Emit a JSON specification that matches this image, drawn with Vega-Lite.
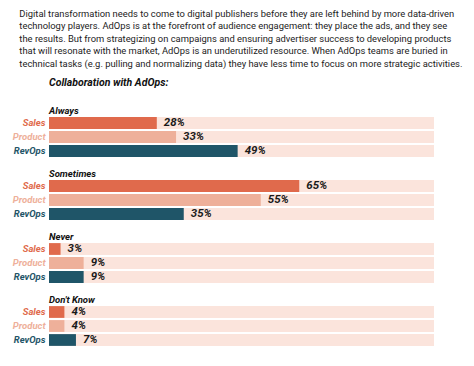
{
  "$schema": "https://vega.github.io/schema/vega-lite/v6.json",
  "background": "white",
  "padding": {"left": 12, "top": 8, "right": 0, "bottom": 0},
  "autosize": {"type": "pad"},
  "title": {
    "text": [
      "Digital transformation needs to come to digital publishers before they are left behind by more data-driven",
      "technology players. AdOps is at the forefront of audience engagement: they place the ads, and they see",
      "the results. But from strategizing on campaigns and ensuring advertiser success to developing products",
      "that will resonate with the market, AdOps is an underutilized resource. When AdOps teams are buried in",
      "technical tasks (e.g. pulling and normalizing data) they have less time to focus on more strategic activities."
    ],
    "anchor": "start",
    "frame": "bounds",
    "font": "Roboto",
    "fontSize": 9.4,
    "fontWeight": "normal",
    "fontStyle": "normal",
    "color": "#222222",
    "lineHeight": 12.6,
    "dx": 7,
    "dy": 0,
    "offset": 9
  },
  "data": {
    "values": [
      {"group": "Always", "team": "Sales", "value": 0.28},
      {"group": "Always", "team": "Product", "value": 0.33},
      {"group": "Always", "team": "RevOps", "value": 0.49},
      {"group": "Sometimes", "team": "Sales", "value": 0.65},
      {"group": "Sometimes", "team": "Product", "value": 0.55},
      {"group": "Sometimes", "team": "RevOps", "value": 0.35},
      {"group": "Never", "team": "Sales", "value": 0.03},
      {"group": "Never", "team": "Product", "value": 0.09},
      {"group": "Never", "team": "RevOps", "value": 0.09},
      {"group": "Don't Know", "team": "Sales", "value": 0.04},
      {"group": "Don't Know", "team": "Product", "value": 0.04},
      {"group": "Don't Know", "team": "RevOps", "value": 0.07}
    ]
  },
  "vconcat": [
    {
      "title": {
        "text": "Collaboration with AdOps:",
        "anchor": "start",
        "frame": "group",
        "font": "Roboto",
        "fontSize": 10.5,
        "fontWeight": "bold",
        "fontStyle": "italic",
        "color": "#111111",
        "offset": 16.6,
        "dx": 0,
        "dy": 0
      },
      "spacing": 10,
      "vconcat": [
        {
          "title": {"text": "Always", "dy": 3},
          "width": 385, "height": 42,
          "transform": [{"filter": "datum.group == 'Always'"}],
          "encoding": {
            "y": {"field": "team", "type": "nominal", "sort": ["Sales", "Product", "RevOps"], "scale": {"paddingInner": 0.16, "paddingOuter": 0.08}, "axis": {"title": null, "domain": false, "ticks": false, "labelPadding": 4, "minExtent": 36, "maxExtent": 36, "labelFont": "Roboto", "labelFontSize": 9.5, "labelFontWeight": "bold", "labelFontStyle": "italic", "labelColor": {"condition": [{"test": "datum.value == 'Sales'", "value": "#e06a4c"}, {"test": "datum.value == 'Product'", "value": "#eeb09a"}], "value": "#1f5568"}}}
          },
          "layer": [
            {"mark": {"type": "bar", "color": "#fbe4dc"}, "encoding": {"x": {"datum": 1, "type": "quantitative", "scale": {"domain": [0, 1]}, "axis": null}}},
            {"mark": {"type": "bar"}, "encoding": {"x": {"field": "value", "type": "quantitative", "scale": {"domain": [0, 1]}, "axis": null}, "color": {"field": "team", "type": "nominal", "scale": {"domain": ["Sales", "Product", "RevOps"], "range": ["#e06a4c", "#eeb09a", "#1f5568"]}, "legend": null}}},
            {"mark": {"type": "text", "align": "left", "dx": 7, "font": "Roboto", "fontSize": 11.5, "fontWeight": "bold", "fontStyle": "italic", "color": "#1a1a1a"}, "encoding": {"x": {"field": "value", "type": "quantitative", "scale": {"domain": [0, 1]}, "axis": null}, "text": {"field": "value", "type": "quantitative", "format": ".0%"}}}
          ]
        },
        {
          "title": {"text": "Sometimes", "dy": 3},
          "width": 385, "height": 42,
          "transform": [{"filter": "datum.group == 'Sometimes'"}],
          "encoding": {
            "y": {"field": "team", "type": "nominal", "sort": ["Sales", "Product", "RevOps"], "scale": {"paddingInner": 0.16, "paddingOuter": 0.08}, "axis": {"title": null, "domain": false, "ticks": false, "labelPadding": 4, "minExtent": 36, "maxExtent": 36, "labelFont": "Roboto", "labelFontSize": 9.5, "labelFontWeight": "bold", "labelFontStyle": "italic", "labelColor": {"condition": [{"test": "datum.value == 'Sales'", "value": "#e06a4c"}, {"test": "datum.value == 'Product'", "value": "#eeb09a"}], "value": "#1f5568"}}}
          },
          "layer": [
            {"mark": {"type": "bar", "color": "#fbe4dc"}, "encoding": {"x": {"datum": 1, "type": "quantitative", "scale": {"domain": [0, 1]}, "axis": null}}},
            {"mark": {"type": "bar"}, "encoding": {"x": {"field": "value", "type": "quantitative", "scale": {"domain": [0, 1]}, "axis": null}, "color": {"field": "team", "type": "nominal", "scale": {"domain": ["Sales", "Product", "RevOps"], "range": ["#e06a4c", "#eeb09a", "#1f5568"]}, "legend": null}}},
            {"mark": {"type": "text", "align": "left", "dx": 7, "font": "Roboto", "fontSize": 11.5, "fontWeight": "bold", "fontStyle": "italic", "color": "#1a1a1a"}, "encoding": {"x": {"field": "value", "type": "quantitative", "scale": {"domain": [0, 1]}, "axis": null}, "text": {"field": "value", "type": "quantitative", "format": ".0%"}}}
          ]
        },
        {
          "title": {"text": "Never", "dy": 3},
          "width": 385, "height": 42,
          "transform": [{"filter": "datum.group == 'Never'"}],
          "encoding": {
            "y": {"field": "team", "type": "nominal", "sort": ["Sales", "Product", "RevOps"], "scale": {"paddingInner": 0.16, "paddingOuter": 0.08}, "axis": {"title": null, "domain": false, "ticks": false, "labelPadding": 4, "minExtent": 36, "maxExtent": 36, "labelFont": "Roboto", "labelFontSize": 9.5, "labelFontWeight": "bold", "labelFontStyle": "italic", "labelColor": {"condition": [{"test": "datum.value == 'Sales'", "value": "#e06a4c"}, {"test": "datum.value == 'Product'", "value": "#eeb09a"}], "value": "#1f5568"}}}
          },
          "layer": [
            {"mark": {"type": "bar", "color": "#fbe4dc"}, "encoding": {"x": {"datum": 1, "type": "quantitative", "scale": {"domain": [0, 1]}, "axis": null}}},
            {"mark": {"type": "bar"}, "encoding": {"x": {"field": "value", "type": "quantitative", "scale": {"domain": [0, 1]}, "axis": null}, "color": {"field": "team", "type": "nominal", "scale": {"domain": ["Sales", "Product", "RevOps"], "range": ["#e06a4c", "#eeb09a", "#1f5568"]}, "legend": null}}},
            {"mark": {"type": "text", "align": "left", "dx": 7, "font": "Roboto", "fontSize": 11.5, "fontWeight": "bold", "fontStyle": "italic", "color": "#1a1a1a"}, "encoding": {"x": {"field": "value", "type": "quantitative", "scale": {"domain": [0, 1]}, "axis": null}, "text": {"field": "value", "type": "quantitative", "format": ".0%"}}}
          ]
        },
        {
          "title": {"text": "Don't Know", "dy": 3},
          "width": 385, "height": 42,
          "transform": [{"filter": "datum.group == \"Don't Know\""}],
          "encoding": {
            "y": {"field": "team", "type": "nominal", "sort": ["Sales", "Product", "RevOps"], "scale": {"paddingInner": 0.16, "paddingOuter": 0.08}, "axis": {"title": null, "domain": false, "ticks": false, "labelPadding": 4, "minExtent": 36, "maxExtent": 36, "labelFont": "Roboto", "labelFontSize": 9.5, "labelFontWeight": "bold", "labelFontStyle": "italic", "labelColor": {"condition": [{"test": "datum.value == 'Sales'", "value": "#e06a4c"}, {"test": "datum.value == 'Product'", "value": "#eeb09a"}], "value": "#1f5568"}}}
          },
          "layer": [
            {"mark": {"type": "bar", "color": "#fbe4dc"}, "encoding": {"x": {"datum": 1, "type": "quantitative", "scale": {"domain": [0, 1]}, "axis": null}}},
            {"mark": {"type": "bar"}, "encoding": {"x": {"field": "value", "type": "quantitative", "scale": {"domain": [0, 1]}, "axis": null}, "color": {"field": "team", "type": "nominal", "scale": {"domain": ["Sales", "Product", "RevOps"], "range": ["#e06a4c", "#eeb09a", "#1f5568"]}, "legend": null}}},
            {"mark": {"type": "text", "align": "left", "dx": 7, "font": "Roboto", "fontSize": 11.5, "fontWeight": "bold", "fontStyle": "italic", "color": "#1a1a1a"}, "encoding": {"x": {"field": "value", "type": "quantitative", "scale": {"domain": [0, 1]}, "axis": null}, "text": {"field": "value", "type": "quantitative", "format": ".0%"}}}
          ]
        }
      ]
    }
  ],
  "config": {
    "view": {"stroke": null},
    "title": {"anchor": "start", "frame": "group", "font": "Roboto", "fontSize": 9.5, "fontWeight": "bold", "fontStyle": "italic", "color": "#111111", "offset": 0}
  }
}
